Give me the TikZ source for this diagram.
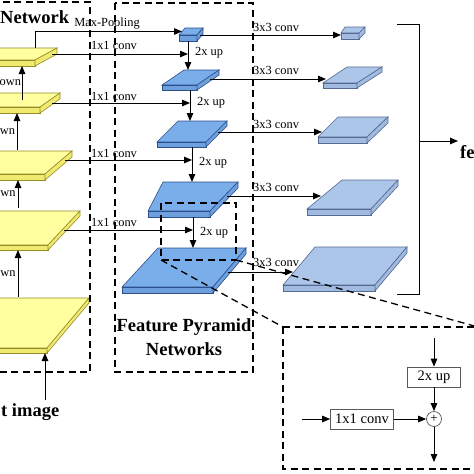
\documentclass[tikz,border=0pt]{standalone}
\usepackage{fontspec}
\setmainfont{Liberation Serif}
\usetikzlibrary{arrows.meta}

\definecolor{bbtop}{RGB}{255,255,160}
\definecolor{bbside}{RGB}{240,234,112}
\definecolor{bbline}{RGB}{150,140,40}
\definecolor{fptop}{RGB}{122,174,234}
\definecolor{fpside}{RGB}{110,160,222}
\definecolor{fpline}{RGB}{45,80,140}
\definecolor{rttop}{RGB}{172,198,234}
\definecolor{rtside}{RGB}{160,186,224}
\definecolor{rtline}{RGB}{85,105,145}

% #1 colour prefix, #2 front-left x, #3 front-right x, #4 back-left x, #5 back-right x,
% #6 back y, #7 front y, #8 thickness, #9 name
\newcommand{\slab}[9]{%
  \filldraw[fill=#1top, draw=#1line, line width=0.6pt] (#2,#7) -- (#3,#7) -- (#5,#6) -- (#4,#6) -- cycle;
  \filldraw[fill=#1side, draw=#1line, line width=0.6pt] (#2,#7) rectangle (#3,#7+#8);
  \filldraw[fill=#1side, draw=#1line, line width=0.6pt] (#3,#7) -- (#5,#6) -- (#5,#6+#8) -- (#3,#7+#8) -- cycle;
  \coordinate (#9) at ({(#2+#3+#4+#5)/4},{(#6+#7)/2});
}

\tikzset{
  conn/.style={-{Triangle[length=8pt,width=6.5pt]}, line width=1pt},
  plain/.style={line width=1pt},
  zoomline/.style={line width=1.3pt, dash pattern=on 7pt off 4.5pt},
  lbl/.style={font=\fontsize{12.4}{12.4}\selectfont, inner sep=0pt},
  title/.style={font=\fontsize{18.5}{24}\selectfont\bfseries, inner sep=0pt, align=center},
  opbox/.style={draw=gray!70!black, line width=0.7pt, fill=white, minimum height=20pt, inner xsep=2pt, font=\fontsize{14.5}{14.5}\selectfont},
  sumnode/.style={circle, draw=gray!70!black, line width=0.7pt, fill=white, minimum size=15pt, inner sep=0pt, font=\fontsize{13}{13}\selectfont},
}

\begin{document}
\begin{tikzpicture}[x=1pt, y=-1pt]
\useasboundingbox (0,0) rectangle (474,474);
\clip (0,0) rectangle (474,474);

% backbone layers
\slab{bb}{-60}{35}{-38}{57}{48}{60}{6}{c1}
\slab{bb}{-60}{40}{-40}{60}{93}{107}{6}{c2}
\slab{bb}{-60}{45}{-33}{72}{151}{174}{6}{c3}
\slab{bb}{-60}{48}{-28}{80}{211}{245}{5}{c4}
\slab{bb}{-60}{47}{-18}{89}{298}{348}{5}{c5}

% pyramid layers
\slab{fp}{179}{197}{185}{203}{28}{35}{6}{p1}
\slab{fp}{162}{197}{184}{219}{70}{85}{5}{p2}
\slab{fp}{157}{206}{178}{227}{121}{142}{5}{p3}
\slab{fp}{148}{210}{163}{238}{182}{211}{6}{p4}
\slab{fp}{122}{213}{158}{246}{248}{287}{6}{p5}

% output layers
\slab{rt}{341}{359}{345}{365}{27}{33}{6}{q1}
\slab{rt}{323}{357}{347}{382}{67}{83}{5}{q2}
\slab{rt}{318}{367}{338}{388}{117}{137}{6}{q3}
\slab{rt}{307}{371}{342}{398}{180}{209}{6}{q4}
\slab{rt}{283}{375}{315}{407}{247}{285}{6}{q5}

% titles
\node[title, anchor=west] (bbname) at (0,17) {Network};
\node[title, anchor=west] (inname) at (1,412) {t image};
\node[title] (fpname) at (184,337) {Feature Pyramid\\Networks};
\node[title, anchor=west] (outname) at (460,152) {fe};

% bottom-up path
\coordinate (in) at (45,400);
\draw[conn] (in) -- (45,353);
\draw[conn] (22,100) -- (22,66) node[lbl, midway, anchor=east, xshift=-0.5pt] {own};
\draw[conn] (17,150) -- (17,113) node[lbl, midway, anchor=east, xshift=-1.5pt] {wn};
\draw[conn] (18,208) -- (18,180) node[lbl, midway, anchor=east, xshift=-2pt] {wn};
\draw[conn] (18,297) -- (18,250) node[lbl, midway, anchor=east, xshift=-2pt] {wn};

% top-down path
\coordinate (mp) at (35,48);
\coordinate (u1) at (188,54);
\coordinate (u2) at (190,103);
\coordinate (u3) at (192,160);
\coordinate (u4) at (193,230);
\draw[conn] (mp) |- (182,31.5);
\node[lbl] (mplbl) at (107,24) {Max-Pooling};
\draw[conn] (188,41) -- (188,70);
\draw[conn] (190,90) -- (190,121);
\draw[conn] (192,147) -- (192,182);
\draw[conn] (193,217) -- (193,248);
\foreach \u/\y in {u1/53, u2/103, u3/163, u4/233}
  \node[lbl, anchor=west] at ([xshift=7pt]\u |- 0,\y) {2x up};

% lateral 1x1 conv
\draw[conn] (52,54) -- (u1);
\draw[conn] (52,103) -- (u2);
\draw[conn] (65,160) -- (u3);
\draw[conn] (64,230) -- (u4);
\foreach \y in {45, 96, 153, 222}
  \node[lbl] at (114,\y) {1x1 conv};

% 3x3 conv to outputs
\draw[conn] (200,35) -- (341,35);
\draw[conn] (210,79) -- (326,79);
\draw[conn] (218,132) -- (322,132);
\draw[conn] (227,196) -- (321,196);
\draw[conn] (228,272) -- (293,272);
\foreach \y in {27, 70, 124, 187, 262}
  \node[lbl, anchor=west] at (253,\y) {3x3 conv};

% merge
\coordinate (bt) at (397,24);
\coordinate (bb) at (397,294);
\draw[plain] (bt) -- (419,24) -- (419,294) -- (bb);
\draw[conn] (419,141) -- (458,141);

% dashed frames
\draw[zoomline] (-10,2) rectangle (90,372);
\draw[zoomline] (115,3) rectangle (253,372);
\draw[zoomline] (161,203) rectangle (236,260);
\draw[zoomline] (283,327) rectangle (478,469);
\draw[zoomline] (161,260) -- (283,327);
\draw[zoomline] (236,260) -- (478,327);

% zoomed merge block
\node[opbox, minimum width=53pt] (up) at (434,377) {2x up};
\node[opbox, minimum width=63pt] (cv) at (362,419) {1x1 conv};
\node[sumnode] (sum) at (434,419) {+};
\coordinate (zin) at (434,338);
\coordinate (zleft) at (302,419);
\coordinate (zout) at (434,462);
\draw[conn] (zin) -- (up);
\draw[conn] (up) -- (sum);
\draw[conn] (zleft) -- (cv);
\draw[conn] (cv) -- (sum);
\draw[conn] (sum) -- (zout);
\end{tikzpicture}
\end{document}
